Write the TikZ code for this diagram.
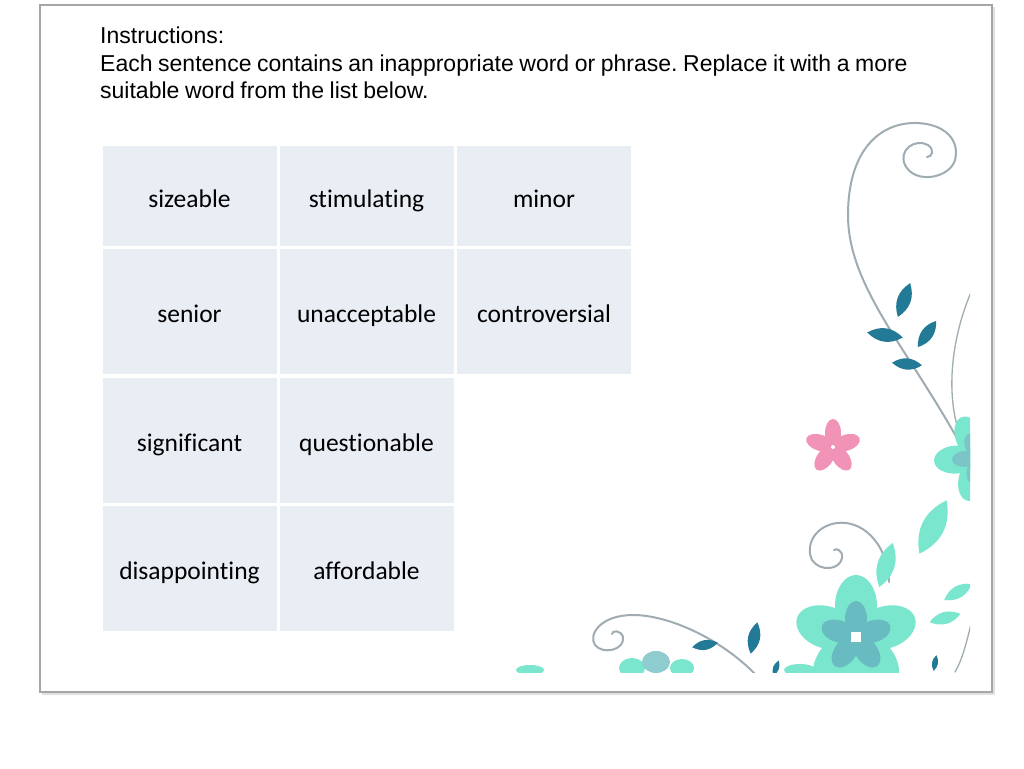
\documentclass[tikz,border=0pt]{standalone}
\usepackage{fontspec}
\setmainfont{Liberation Sans}
\newfontfamily\cellfont[Ligatures={NoCommon,NoContextual}]{Carlito}
\usepackage{tikz}
\usetikzlibrary{calc}
\usetikzlibrary{shapes}
\definecolor{cellfill}{RGB}{233,237,244}
\definecolor{framegray}{RGB}{166,166,166}
\definecolor{vinegray}{RGB}{160,172,178}
\definecolor{darkleaf}{RGB}{34,122,150}
\definecolor{lightteal}{RGB}{122,230,206}
\definecolor{midteal}{RGB}{66,170,176}
\definecolor{pinkpetal}{RGB}{238,120,165}
\newcommand{\instrfont}{\fontsize{23}{27}\selectfont\spaceskip 5.6pt plus 1pt\relax}
% leaf: x, y, angle, half length, colour
\newcommand{\leaf}[5]{\begin{scope}[shift={(#1,#2)}, rotate=#3]
  \fill[#5] (-#4,0) .. controls (-#4/3,#4/2) and (#4/3,#4/2) .. (#4,0) .. controls (#4/3,-#4/2) and (-#4/3,-#4/2) .. (-#4,0);
  \end{scope}}
% flower: x, y, start angle, petal length, petal width, colour
\newcommand{\flower}[6]{\begin{scope}[shift={(#1,#2)}, rotate=#3]
  \foreach \a in {0,72,...,288} \fill[#6, rotate=\a] (#4pt,0) ellipse (#4pt and #5pt);
  \end{scope}}
\tikzset{
  wordcell/.style={fill=cellfill, inner sep=0pt, minimum width=174pt, text=black,
    text height=22pt, text depth=0pt, font=\cellfont\fontsize{25.5}{30}\selectfont},
  shortrow/.style={minimum height=100pt},
  tallrow/.style={minimum height=125pt},
  instr/.style={anchor=base west, inner sep=0pt, font=\instrfont},
  vine/.style={draw=vinegray, line width=2pt, line cap=round},
}
\begin{document}
\frenchspacing
\begin{tikzpicture}[x=1pt, y=-1pt]
    \useasboundingbox (0,0) rectangle (1024,768);
    \fill[white] (0,0) rectangle (1024,768);
    % slide frame
    \fill[black!12] (42,7) rectangle (995,695);
    \filldraw[fill=white, draw=framegray, line width=1.5pt] (40,5) rectangle (992,692);
    % instructions
    \node[instr] (instrhead) at (100,44) {Instructions:};
    \node[instr] (instrone) at (100,71) {Each sentence contains an inappropriate word or phrase. Replace it with a more};
    \node[instr] (instrtwo) at (100,98) {suitable word from the list below.};
    % row 1
    \node[wordcell, shortrow] (sizeable) at (189.5,196) {sizeable};
    \node[wordcell, shortrow] (stimulating) at (366.5,196) {stimulating};
    \node[wordcell, shortrow] (minor) at (544,196) {minor};
    % row 2
    \node[wordcell, tallrow] (senior) at (189.5,311) {senior};
    \node[wordcell, tallrow] (unacceptable) at (366.5,311) {unacceptable};
    \node[wordcell, tallrow] (controversial) at (544,311) {controversial};
    % row 3
    \node[wordcell, tallrow] (significant) at (189.5,440.5) {significant};
    \node[wordcell, tallrow] (questionable) at (366.5,440.5) {questionable};
    % row 4
    \node[wordcell, tallrow] (disappointing) at (189.5,568.5) {disappointing};
    \node[wordcell, tallrow] (affordable) at (366.5,568.5) {affordable};
    % floral corner
    \begin{scope}
        \clip (480,100) rectangle (970,672);
        % vines
        \draw[vine] (958,440) .. controls (905,345) and (848,285) .. (848,215) .. controls (848,150) and (880,122) .. (917,123) .. controls (945,124) and (960,140) .. (955,160) .. controls (950,178) and (915,185) .. (905,165) .. controls (898,150) and (915,138) .. (928,145) .. controls (935,150) and (932,157) .. (927,157);
        \draw[vine, line width=1.3pt] (972,290) .. controls (950,340) and (945,400) .. (962,440);
        \draw[vine, line width=1.3pt] (972,620) .. controls (966,645) and (962,660) .. (955,672);
        \draw[vine] (889,582) .. controls (887,540) and (860,520) .. (837,523) .. controls (815,526) and (805,545) .. (812,560) .. controls (820,572) and (840,570) .. (842,558) .. controls (843,550) and (836,548) .. (834,550);
        \draw[vine] (755,674) .. controls (722,640) and (670,615) .. (633,615) .. controls (600,615) and (588,635) .. (595,645) .. controls (603,655) and (625,650) .. (623,637) .. controls (621,630) and (612,630) .. (612,634);
        % dark leaves
        \leaf{904}{300}{70}{18}{darkleaf}
        \leaf{885}{335}{-8}{18}{darkleaf}
        \leaf{927}{334}{55}{16}{darkleaf}
        \leaf{907}{364}{-5}{15}{darkleaf}
        \leaf{754}{638}{78}{16}{darkleaf}
        \leaf{705}{645}{10}{13}{darkleaf}
        \leaf{776}{668}{70}{8}{darkleaf}
        \leaf{935}{663}{80}{8}{darkleaf}
        % light leaves
        \leaf{933}{527}{63}{30}{lightteal}
        \leaf{886}{565}{73}{23}{lightteal}
        \leaf{958}{592}{30}{16}{lightteal}
        \leaf{945}{618}{15}{16}{lightteal}
        % pink flower
        \flower{833}{447}{90}{14}{8}{pinkpetal!80}
        \fill[white] (833,447) circle (2pt);
        % flower on the edge
        \flower{978}{458}{40}{22}{14}{lightteal}
        \flower{978}{458}{40}{13}{8}{midteal!70}
        % big flower
        \flower{856}{637}{90}{31}{21}{lightteal}
        \flower{856}{637}{90}{18}{11}{midteal!80}
        \fill[white] (851,632) rectangle (861,642);
        % small flowers at the bottom
        \fill[lightteal] (632,668) ellipse (13pt and 10pt);
        \fill[midteal!60] (656,662) ellipse (14pt and 11pt);
        \fill[lightteal] (682,668) ellipse (12pt and 9pt);
        \fill[lightteal] (530,670) ellipse (14pt and 5pt);
        \fill[lightteal] (800,670) ellipse (16pt and 6pt);
    \end{scope}
\end{tikzpicture}
\end{document}
